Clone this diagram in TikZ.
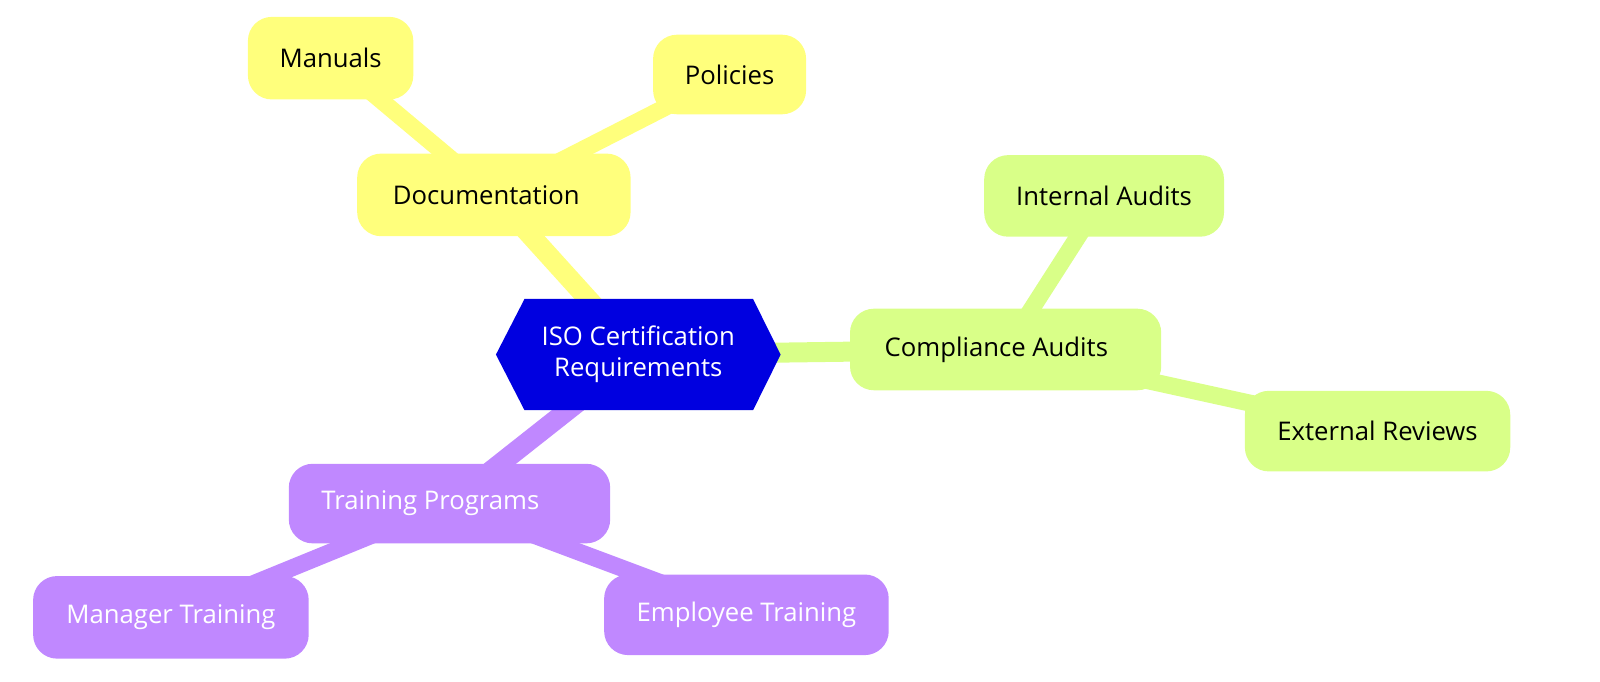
\documentclass[tikz,border=0pt]{standalone}
\usepackage{fontspec}
\setmainfont{Open Sans}
\usetikzlibrary{backgrounds}
\definecolor{ylw}{RGB}{255,255,124}
\definecolor{grn}{RGB}{217,255,136}
\definecolor{prp}{RGB}{192,136,255}
\definecolor{rootblue}{RGB}{0,0,224}
\tikzset{
  box/.style={rounded corners=12pt, inner sep=0pt, align=center,
    font=\fontsize{12.85pt}{15.5pt}\selectfont},
  lbox/.style={rounded corners=12pt, inner ysep=0pt, align=flush left,
    font=\fontsize{12.85pt}{15.5pt}\selectfont},
  ybox/.style={box, fill=ylw, text=black},
  gbox/.style={box, fill=grn, text=black},
  pbox/.style={box, fill=prp, text=white},
  mainedge/.style={line width=10pt},
  subedge/.style={line width=8.5pt},
}
\begin{document}
\begin{tikzpicture}[x=0.5102pt,y=-0.5102pt]
\path[use as bounding box] (0,0) rectangle (1568,667.4);
% root hexagon
\fill[rootblue] (486,347.5) -- (514,293) -- (738,293) -- (765,347.5) -- (738,402) -- (514,402) -- cycle;
\node[box, text=white] (root) at (625.5,347.5) {ISO Certification\\Requirements};
% level 1
\node[lbox, fill=ylw, text=black, inner xsep=17.9pt, text width=100.9pt, minimum height=41.3pt] (doc) at (484,191) {Documentation};
\node[lbox, fill=grn, text=black, inner xsep=17.3pt, text width=121pt, minimum height=40.8pt] (comp) at (985.5,342.5) {Compliance Audits};
\node[lbox, fill=prp, text=white, inner xsep=16.3pt, text width=128.1pt, minimum height=39.8pt] (train) at (440.5,493.5) {Training Programs};
% level 2
\node[ybox, minimum width=82.7pt, minimum height=41.3pt] (man) at (324,57) {Manuals};
\node[ybox, minimum width=76.5pt, minimum height=39.8pt] (pol) at (715,73) {Policies};
\node[gbox, minimum width=119.9pt, minimum height=40.8pt] (intl) at (1082,192) {Internal Audits};
\node[gbox, minimum width=132.7pt, minimum height=40.3pt] (ext) at (1350,422.5) {External Reviews};
\node[pbox, minimum width=137.8pt, minimum height=41.3pt] (mgr) at (167.5,605) {Manager Training};
\node[pbox, minimum width=142.3pt, minimum height=40.3pt] (emp) at (731.5,602.5) {Employee Training};
% connectors
\begin{scope}[on background layer]
\draw[mainedge, ylw] (root.center) -- (doc.center);
\draw[mainedge, grn] (root.center) -- (comp.center);
\draw[mainedge, prp] (root.center) -- (train.center);
\draw[subedge, ylw] (doc.center) -- (man.center);
\draw[subedge, ylw] (doc.center) -- (pol.center);
\draw[subedge, grn] (comp.center) -- (intl.center);
\draw[subedge, grn] (comp.center) -- (ext.center);
\draw[subedge, prp] (train.center) -- (mgr.center);
\draw[subedge, prp] (train.center) -- (emp.center);
\end{scope}
\end{tikzpicture}
\end{document}
